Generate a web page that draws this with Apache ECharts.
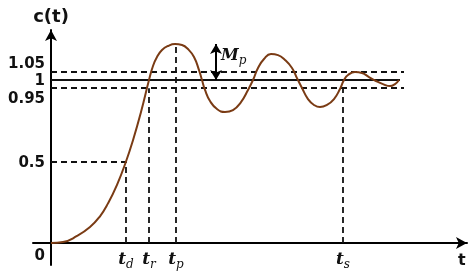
<!DOCTYPE html>
<html><head><meta charset="utf-8">
<script src="https://cdn.jsdelivr.net/npm/echarts@6/dist/echarts.min.js"></script>
<style>html,body{margin:0;padding:0;background:#fff}#c{width:474px;height:275px}</style>
</head><body><div id="c"></div>
<script>
// Step response c(t)
const timeValues = [0, 0.30, 0.65, 0.975, 1.225, 1.425, 1.65, 1.875, 2.05, 2.25, 2.45, 2.55, 2.65, 2.775, 2.925, 3.10, 3.275, 3.425, 3.575, 3.70, 3.775, 3.85, 3.975, 4.15, 4.35, 4.55, 4.75, 4.925, 5.05, 5.175, 5.325, 5.50, 5.675, 5.85, 6.025, 6.15, 6.275, 6.425, 6.575, 6.725, 6.90, 7.075, 7.225, 7.325, 7.425, 7.60, 7.775, 7.95, 8.125, 8.30, 8.475, 8.60, 8.70];
const responseValues = [0, 0.006, 0.043, 0.098, 0.164, 0.243, 0.357, 0.5, 0.631, 0.804, 1.0, 1.086, 1.141, 1.184, 1.209, 1.221, 1.215, 1.190, 1.141, 1.061, 1.0, 0.939, 0.871, 0.822, 0.804, 0.816, 0.865, 0.939, 1.0, 1.074, 1.129, 1.160, 1.153, 1.123, 1.074, 1.012, 0.951, 0.883, 0.847, 0.834, 0.847, 0.883, 0.945, 1.0, 1.031, 1.049, 1.043, 1.018, 0.994, 0.975, 0.963, 0.975, 1.0];
const yTickValues = [0, 0.5, 0.95, 1, 1.05];
const yTickLabels = ['0', '0.5', '0.95', '1', '1.05'];
const timeMarkSubs = ['d', 'r', 'p', 's'];
const timeMarkValues = [1.875, 2.45, 3.125, 7.3];
const timeMarkTops = [0.5, 0.95, 1.221, 0.95];
const finalValue = 1;
const bandUpper = 1.05;
const bandLower = 0.95;
const halfValue = 0.5;
const peakValue = 1.221;
const bandEnd = 8.825;
const finalEnd = 8.725;
const mpTime = 4.125;

const curve = timeValues.map((t, i) => [t, responseValues[i]]);
const dash = { color: '#111', width: 1.8, type: [6, 4] };
const solid = { color: '#111', width: 2, type: 'solid' };
const seg = (a, b, ls) => [{ coord: a, lineStyle: ls }, { coord: b }];
const marks = [
  seg([0, bandUpper], [bandEnd, bandUpper], dash),
  seg([0, bandLower], [bandEnd, bandLower], dash),
  seg([0, finalValue], [finalEnd, finalValue], solid),
  seg([0, halfValue], [timeMarkValues[0], halfValue], dash)
];
timeMarkValues.forEach((t, i) => marks.push(seg([t, 0], [t, timeMarkTops[i]], dash)));
marks.push([
  { coord: [mpTime, finalValue], symbol: 'arrow', symbolSize: [9, 10], lineStyle: { color: '#000', width: 2, type: 'solid' } },
  { coord: [mpTime, peakValue], symbol: 'arrow', symbolSize: [9, 10] }
]);

const sansBold = { fontFamily: 'DejaVu Sans', fontWeight: 'bold', fontSize: 15, color: '#111' };
const serifT = { fontFamily: 'DejaVu Serif', fontStyle: 'italic', fontWeight: 'bold', fontSize: 17, color: '#111', lineHeight: 22 };
const serifSub = { fontFamily: 'DejaVu Serif', fontStyle: 'italic', fontSize: 12, color: '#111', verticalAlign: 'bottom', lineHeight: 22 };

const chart = echarts.init(document.getElementById('c'), null, { renderer: 'canvas' });
chart.setOption({
  animation: false,
  backgroundColor: '#fff',
  grid: { left: 33, right: 7, top: 30, bottom: 10, containLabel: false, outerBoundsMode: 'none' },
  xAxis: {
    type: 'value', min: -0.45, max: 10.4,
    axisLine: { onZero: true, symbol: ['none', 'arrow'], symbolSize: [9, 11], lineStyle: { color: '#000', width: 2 } },
    axisTick: { show: false }, splitLine: { show: false },
    axisLabel: {
      customValues: timeMarkValues, margin: -16,
      formatter: v => {
        let k = timeMarkValues.findIndex(x => Math.abs(x - v) < 1e-6);
        return k < 0 ? '' : '{t|t}{s|' + timeMarkSubs[k] + '}';
      },
      rich: { t: serifT, s: serifSub }
    },
    name: 't', nameLocation: 'end', nameGap: -9,
    nameTextStyle: { fontFamily: 'DejaVu Sans', fontWeight: 'bold', fontSize: 16, color: '#111', verticalAlign: 'top', padding: [10, 0, 0, 0] }
  },
  yAxis: {
    type: 'value', min: -0.135, max: 1.307,
    axisLine: { onZero: true, symbol: ['none', 'arrow'], symbolSize: [9, 11], lineStyle: { color: '#000', width: 2 } },
    axisTick: { show: false }, splitLine: { show: false },
    axisLabel: {
      customValues: yTickValues, margin: -12,
      formatter: v => {
        let k = yTickValues.findIndex(x => Math.abs(x - v) < 1e-6);
        if (k < 0) return '';
        const lab = yTickLabels[k];
        if (v === 0) return '{dn|' + lab + '}';
        if (v > 1.01) return '{up|' + lab + '}';
        if (v < 0.99 && v > 0.9) return '{dn2|' + lab + '}';
        return '{m|' + lab + '}';
      },
      rich: {
        m: Object.assign({}, sansBold, { padding: [3, 0, 0, 0] }),
        up: Object.assign({}, sansBold, { padding: [0, 0, 16, 0] }),
        dn2: Object.assign({}, sansBold, { padding: [21, 0, 0, 0] }),
        dn: Object.assign({}, sansBold, { padding: [26, 0, 0, 0] })
      }
    },
    name: 'c(t)', nameLocation: 'end', nameGap: 4,
    nameTextStyle: { fontFamily: 'DejaVu Sans', fontWeight: 'bold', fontSize: 18, color: '#111' }
  },
  series: [{
    type: 'line', data: curve, smooth: 0.5, symbol: 'none', z: 5,
    lineStyle: { color: '#7a3b14', width: 2 },
    markLine: { silent: true, symbol: ['none', 'none'], label: { show: false }, data: marks, z: 3 },
    markPoint: {
      silent: true,
      data: [{ coord: [mpTime, 1.15], symbol: 'circle', symbolSize: 0,
        label: { show: true, position: 'right', distance: 5, formatter: '{t|M}{s|p}',
          rich: { t: Object.assign({}, serifT, { fontSize: 16 }), s: serifSub } } }]
    }
  }]
});
</script>
</body></html>
